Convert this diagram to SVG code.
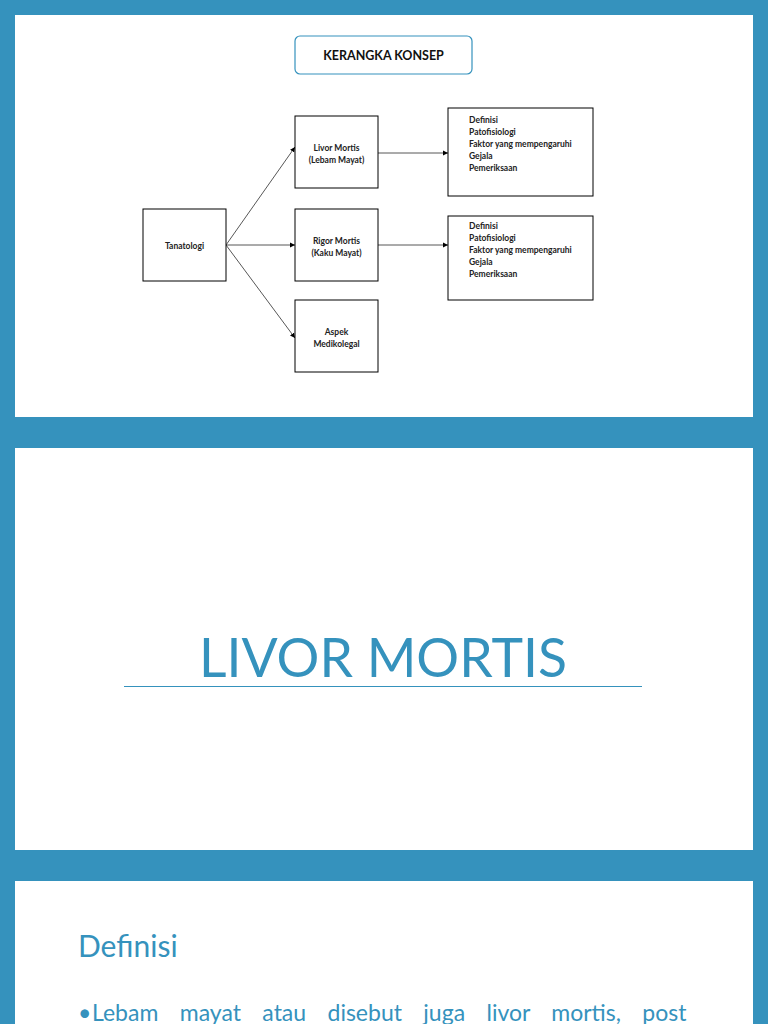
<svg xmlns="http://www.w3.org/2000/svg" width="768" height="1024" viewBox="0 0 768 1024">
<defs>
<marker id="ah" markerWidth="6" markerHeight="6" refX="5" refY="3" orient="auto" markerUnits="userSpaceOnUse"><path d="M0,0.5 L5,3 L0,5.5 z" fill="#000"/></marker>
<style>
.box{fill:#fff;stroke:#000;stroke-width:1}
.t{font-family:Lato,"Open Sans",sans-serif;font-size:8.5px;font-weight:bold;fill:#222}
.c{stroke:#444;stroke-width:0.9;fill:none;marker-end:url(#ah)}
</style>
</defs>
<rect width="768" height="1024" fill="#3592bd"/>
<rect x="15" y="15" width="738" height="402" fill="#fff"/>
<rect x="15" y="448" width="738" height="402" fill="#fff"/>
<rect x="15" y="881" width="738" height="150" fill="#fff"/>
<g id="title"><rect x="295" y="36" width="177" height="38" rx="5" fill="#fff" stroke="#3592bd" stroke-width="1.2"/>
<text x="383.5" y="60" text-anchor="middle" font-family="Lato,'Open Sans',sans-serif" font-size="12.5" font-weight="bold" fill="#111">KERANGKA KONSEP</text></g>
<g id="connectors">
<line class="c" x1="226" y1="245" x2="295" y2="147"/>
<line class="c" x1="226" y1="245" x2="295" y2="245"/>
<line class="c" x1="226" y1="245" x2="295" y2="338"/>
<line class="c" x1="378" y1="153" x2="448" y2="153"/>
<line class="c" x1="378" y1="245" x2="448" y2="245"/>
</g>
<g id="tanatologi"><rect class="box" x="143" y="209" width="83" height="72"/><text class="t" x="184.5" y="249" text-anchor="middle">Tanatologi</text></g>
<g id="livor"><rect class="box" x="295" y="116" width="83" height="72"/><text class="t" x="336.5" y="151" text-anchor="middle">Livor Mortis</text><text class="t" x="336.5" y="163" text-anchor="middle">(Lebam Mayat)</text></g>
<g id="rigor"><rect class="box" x="295" y="209" width="83" height="72"/><text class="t" x="336.5" y="244" text-anchor="middle">Rigor Mortis</text><text class="t" x="336.5" y="256" text-anchor="middle">(Kaku Mayat)</text></g>
<g id="aspek"><rect class="box" x="295" y="300" width="83" height="72"/><text class="t" x="336.5" y="335" text-anchor="middle">Aspek</text><text class="t" x="336.5" y="347" text-anchor="middle">Medikolegal</text></g>
<g id="list1"><rect class="box" x="448" y="108" width="145" height="88"/>
<text class="t" x="469" y="123">Definisi</text><text class="t" x="469" y="135">Patofisiologi</text><text class="t" x="469" y="147">Faktor yang mempengaruhi</text><text class="t" x="469" y="159">Gejala</text><text class="t" x="469" y="171">Pemeriksaan</text></g>
<g id="list2"><rect class="box" x="448" y="216" width="145" height="84"/>
<text class="t" x="469" y="229">Definisi</text><text class="t" x="469" y="241">Patofisiologi</text><text class="t" x="469" y="253">Faktor yang mempengaruhi</text><text class="t" x="469" y="265">Gejala</text><text class="t" x="469" y="277">Pemeriksaan</text></g>
<text x="383" y="677" text-anchor="middle" font-family="Lato,'Open Sans',sans-serif" font-size="53.5" fill="#3592bd">LIVOR MORTIS</text>
<line x1="124" y1="686.5" x2="642" y2="686.5" stroke="#3592bd" stroke-width="1"/>
<text x="78" y="957" font-family="Lato,'Open Sans',sans-serif" font-size="30" fill="#3592bd">Definisi</text>
<text x="78" y="1021" font-family="Lato,'Open Sans',sans-serif" font-size="23" fill="#3592bd">•</text>
<text x="92" y="1021" font-family="Lato,'Open Sans',sans-serif" font-size="23" fill="#3592bd" word-spacing="15.5">Lebam mayat atau disebut juga livor mortis, post</text>
</svg>
